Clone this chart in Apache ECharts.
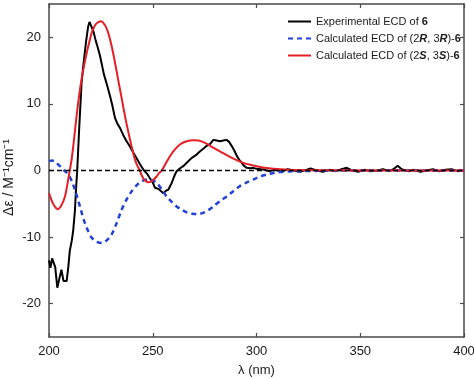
<!DOCTYPE html>
<html>
<head>
<meta charset="utf-8">
<script src="https://cdn.jsdelivr.net/npm/echarts@6/dist/echarts.min.js"></script>
<style>html,body{margin:0;padding:0;background:#fff}#c{width:474px;height:379px}</style>
</head>
<body>
<div id="c"></div>
<script>
var xTicks = [200, 250, 300, 350, 400];
var yTicks = [-20, -10, 0, 10, 20];

var experimental = [
[200,-13.5],[200.7,-14.6],[201.5,-13.2],[202.2,-12.9],[203,-14.5],[204,-17.6],[205,-16.2],[206,-14.9],
[207,-16.6],[207.5,-16.9],[208.5,-16.6],[209.3,-14.5],[210,-12.1],[211,-10.5],[211.7,-8.9],[212.5,-6.0],
[213,-2.9],[213.6,0],[214.5,6.0],[215.7,13.2],[216.8,16.5],[217.8,19.2],[218.8,21.5],[219.5,22.3],
[220.2,22.0],[221.4,20.9],[222.5,19.5],[223.3,18.7],[224.6,17.2],[226.5,14.4],[228,12.8],[229.4,11.2],
[230.5,9.8],[231.8,7.9],[233,7.0],[234.2,6.4],[235.8,5.3],[237.4,4.4],[239,3.6],[240.6,2.7],[242.3,1.8],
[243.9,0.9],[245.8,0.0],[247.3,-0.5],[248.7,-1.2],[250,-1.8],[251.1,-2.6],[253,-2.8],[255.1,-3.4],
[256.5,-3.0],[257.5,-2.9],[259.1,-1.9],[260.3,-0.9],[261.5,-0.1],[263,0.3],[264.7,0.65],[266.5,1.2],
[268.8,1.9],[270.8,2.3],[272.8,2.9],[274.5,3.3],[276,3.7],[277.7,4.0],[279.2,4.6],[280.8,4.5],[282.4,4.4],
[284,4.5],[285.6,4.6],[286.8,4.3],[288,3.7],[289.3,3.0],[290.5,2.2],[291.7,1.6],[292.9,1.15],[294,0.7],
[295.3,0.4],[297,0.35],[298.5,0.4],[300,0.25],[303.3,0.15],[306,-0.1],[309,0.1],[312,-0.15],[315,0.2],
[318,0.0],[321,-0.2],[324,0.1],[326,0.3],[329,0.0],[332,-0.2],[335,0.1],[338,-0.1],[341,0.2],[343.5,0.4],
[346,0.0],[349,-0.2],[352,0.1],[355,-0.1],[358,0.0],[361,0.2],[364,-0.1],[366,0.2],[368,0.7],[370,0.2],
[373,-0.1],[376,0.1],[379,-0.2],[382,0.0],[385,0.2],[388,-0.1],[391,0.1],[394,0.2],[397,-0.1],[400,0.0]
];

var calcRR = [
[200,1.4],[201.5,1.5],[203,1.3],[205.3,0.65],[207.3,0.0],[209.3,-0.6],[211,-1.6],[212.5,-2.9],[213.7,-4.1],
[214.9,-5.4],[216.1,-6.7],[217.3,-7.9],[219,-9.2],[220.6,-10.1],[223,-10.7],[225.4,-10.9],[227.8,-10.5],
[230.2,-9.6],[232.6,-7.9],[235,-5.9],[237.5,-4.3],[239.9,-3.1],[242.3,-2.2],[244.7,-1.6],[247.9,-1.35],
[250,-1.5],[251.9,-1.85],[254.3,-2.8],[256.7,-3.9],[259.1,-4.7],[261.5,-5.4],[264,-5.9],[266.4,-6.3],
[269,-6.5],[271.5,-6.55],[274,-6.4],[276.6,-6.0],[279.2,-5.4],[282.4,-4.6],[285.6,-3.9],[288.8,-3.1],
[292,-2.35],[295.3,-1.8],[298.5,-1.35],[301.7,-0.9],[304.9,-0.6],[307.7,-0.4],[310.5,-0.25],[315,-0.15],
[320,-0.1],[330,-0.05],[350,0],[400,0]
];

var calcSS = [
[200,-3.4],[202,-5.0],[204.2,-5.8],[206,-5.2],[207.7,-3.9],[209,-1.8],[210,0],[210.9,1.65],[212,4.5],
[213.3,8.2],[214.5,11.2],[215.7,13.7],[217,15.9],[218.2,17.7],[219.5,19.4],[220.6,20.7],[222,21.7],
[223,22.1],[225.1,22.4],[227,21.8],[228.3,20.9],[229.4,19.7],[230.6,18.1],[231.8,16.2],[233,14.2],
[234.2,12.2],[235.4,10.2],[236.6,8.2],[237.8,6.4],[239,4.7],[240.2,3.1],[241.4,1.65],[242.6,0.7],
[243.5,0.2],[244.5,-0.6],[245.5,-1.2],[246.7,-1.6],[247.9,-1.75],[249,-1.7],[250.3,-1.4],[251.9,-0.9],
[253,-0.4],[254.3,0],[256,0.9],[258.3,2.15],[260.5,3.1],[263.1,3.9],[266,4.35],[269.5,4.55],[272,4.5],
[274.4,4.25],[277.5,3.75],[280.8,3.15],[284,2.6],[287.2,2.05],[290.5,1.55],[293.6,1.15],[297,0.85],
[300.1,0.65],[304,0.4],[308.1,0.25],[315,0.12],[325,0.05],[340,0.02],[360,0.0],[380,0.0],[400,0.0]
];

var seriesNames = ['Experimental ECD of 6', 'Calculated ECD of (2R, 3R)-6', 'Calculated ECD of (2S, 3S)-6'];
var legendLabels = {
  'Experimental ECD of 6': 'Experimental ECD of {b|6}',
  'Calculated ECD of (2R, 3R)-6': 'Calculated ECD of (2{bi|R}, 3{bi|R})-{b|6}',
  'Calculated ECD of (2S, 3S)-6': 'Calculated ECD of (2{bi|S}, 3{bi|S})-{b|6}'
};

var FONT = '"Liberation Sans", Arial, Helvetica, sans-serif';
var axisColor = '#4a4a4a';
var chart = echarts.init(document.getElementById('c'), null, {renderer: 'canvas'});

function xAx(pos, show) {
  return {
    type: 'value', position: pos, min: 200, max: 400, interval: 50,
    axisLine: {show: true, onZero: false, lineStyle: {color: axisColor, width: 1.5}},
    axisTick: {show: true, inside: true, length: 4, lineStyle: {color: axisColor, width: 1.2}},
    axisLabel: {show: show, fontSize: 13, color: '#1a1a1a', fontFamily: FONT, margin: 8, customValues: xTicks},
    splitLine: {show: false},
    name: show ? 'λ (nm)' : '', nameLocation: 'middle', nameGap: 27, nameMoveOverlap: false,
    nameTextStyle: {fontSize: 13, color: '#1a1a1a', fontFamily: FONT}
  };
}
function yAx(pos, show) {
  return {
    type: 'value', position: pos, min: -25, max: 25,
    axisLine: {show: true, onZero: false, lineStyle: {color: axisColor, width: 1.5}},
    axisTick: {show: true, inside: true, length: 4, customValues: yTicks, lineStyle: {color: axisColor, width: 1.2}},
    axisLabel: {show: show, fontSize: 13, color: '#1a1a1a', fontFamily: FONT, margin: 8, customValues: yTicks},
    splitLine: {show: false},
    name: show ? 'Δε / M⁻¹cm⁻¹' : '', nameLocation: 'middle', nameGap: 33, nameMoveOverlap: false,
    nameTextStyle: {fontSize: 14, color: '#1a1a1a', fontFamily: FONT, padding: [0, 14, 0, 0]}
  };
}

chart.setOption({
  animation: false,
  backgroundColor: '#fff',
  grid: {left: 49, right: 10, top: 4, bottom: 42, containLabel: false, outerBoundsMode: 'none'},
  legend: {
    orient: 'vertical', left: 282, top: 11,
    itemWidth: 23, itemHeight: 10, itemGap: 6,
    data: seriesNames,
    itemStyle: {opacity: 0},
    formatter: function (n) { return legendLabels[n]; },
    textStyle: {
      fontSize: 11, color: '#1a1a1a', fontFamily: FONT,
      rich: {
        b: {fontSize: 11, fontWeight: 'bold', fontFamily: FONT, color: '#1a1a1a'},
        bi: {fontSize: 11, fontWeight: 'bold', fontStyle: 'italic', fontFamily: FONT, color: '#1a1a1a'}
      }
    }
  },
  xAxis: [xAx('bottom', true), xAx('top', false)],
  yAxis: [yAx('left', true), yAx('right', false)],
  series: [
    {
      name: seriesNames[0], type: 'line', data: experimental, symbol: 'none',
      lineStyle: {color: '#000', width: 2}, itemStyle: {color: '#000'},
      markLine: {
        silent: true, symbol: 'none', label: {show: false},
        lineStyle: {color: '#000', type: [5, 3], width: 1.3},
        data: [{yAxis: 0}]
      }
    },
    {
      name: seriesNames[1], type: 'line', data: calcRR, symbol: 'none', smooth: 0.3,
      lineStyle: {color: '#2340d8', width: 2.5, type: [5, 4]}, itemStyle: {color: '#2340d8'}
    },
    {
      name: seriesNames[2], type: 'line', data: calcSS, symbol: 'none', smooth: 0.3,
      lineStyle: {color: '#e61e25', width: 2}, itemStyle: {color: '#e61e25'}
    }
  ]
});
</script>
</body>
</html>
